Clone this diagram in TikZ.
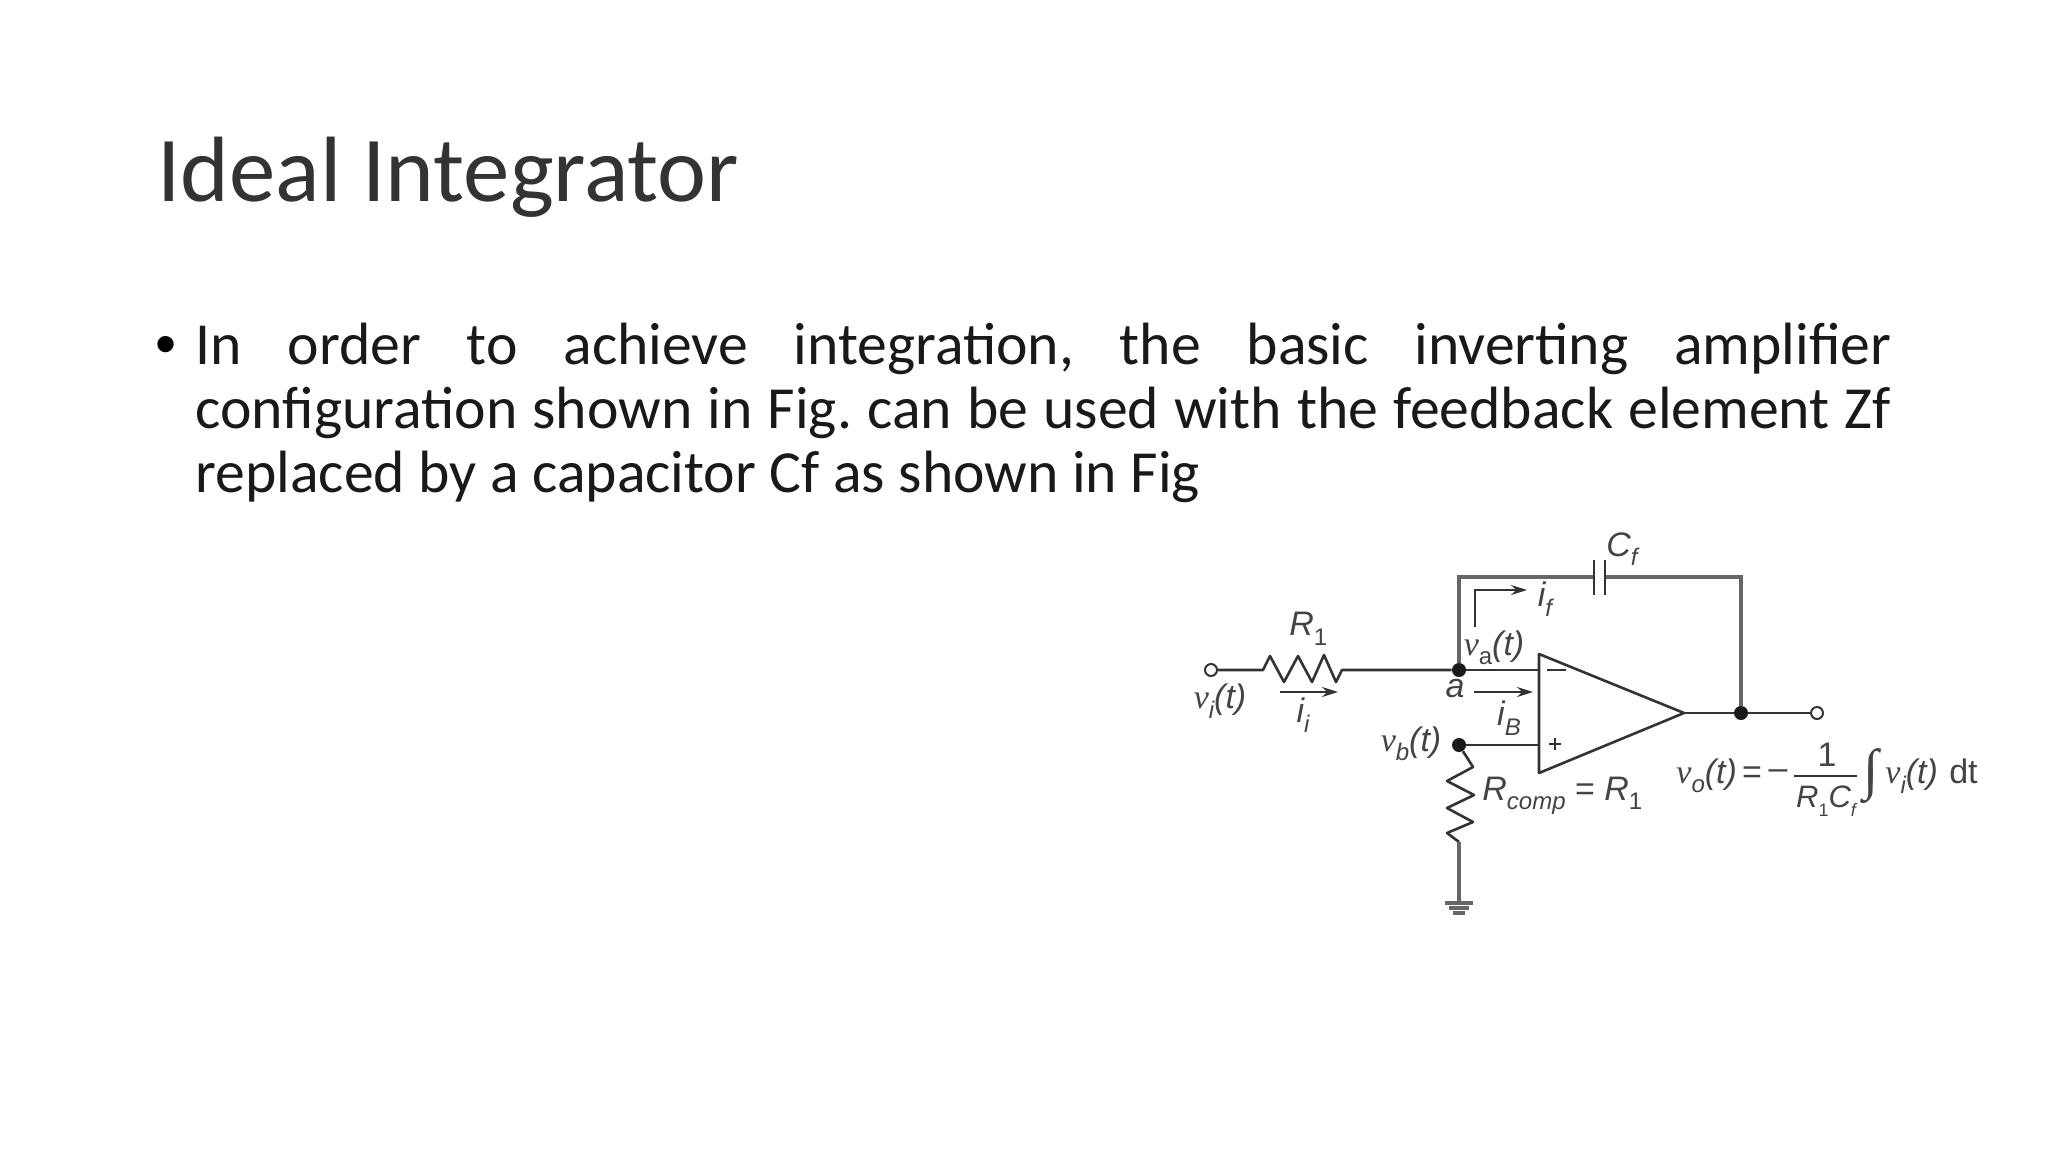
\documentclass[tikz,border=0pt]{standalone}
\usepackage{fontspec}
\setmainfont{Carlito}
\newfontfamily\helv{Liberation Sans}
\newfontfamily\tms{Liberation Serif}
\usetikzlibrary{arrows.meta}
\definecolor{wire}{HTML}{333333}
\definecolor{lab}{HTML}{444444}
\newcommand{\vv}{{\tms\itshape v}}
\newcommand{\subs}[1]{\raisebox{-0.28em}{\fontsize{12}{14}\selectfont #1}}
\newcommand{\subsm}[1]{\raisebox{-0.28em}{\fontsize{9}{11}\selectfont #1}}
\tikzset{
  x=0.5pt,y=-0.5pt,
  wireline/.style={draw=wire,line width=1.3pt,line join=round},
  thickwire/.style={draw=#1,line width=1.6pt,line join=miter},
  thickwire/.default=wire!75,
  currarrow/.style={draw=wire,line width=1pt,-{Stealth[length=8pt,width=5pt]}},
  dotnode/.style={circle,fill=black!90,draw=none,minimum size=7pt,inner sep=0pt},
  terminal/.style={circle,draw=wire,fill=white,line width=1pt,minimum size=6pt,inner sep=0pt},
  lbl/.style={text=lab,inner sep=0pt,font=\helv\itshape\fontsize{17}{20}\selectfont},
  upright/.style={text=lab,inner sep=0pt,font=\helv\fontsize{17}{20}\selectfont},
}
\begin{document}
\begin{tikzpicture}
\useasboundingbox[fill=white] (0,0) rectangle (2048,1152);
% text
\node[anchor=base west,inner sep=0pt,text=black!80,font=\fontsize{46.4}{56}\selectfont] (title) at (157,201) {Ideal Integrator};
\node[anchor=base west,inner sep=0pt,font=\helv\fontsize{30}{32}\selectfont] (bullet) at (155,364) {•};
\node[anchor=base west,inner sep=0pt,text width=848pt,align=justify,text=black!90,
      font=\fontsize{29.85}{32}\selectfont\sloppy\frenchspacing] (body) at (195,364)
  {In order to achieve integration, the basic inverting amplifier\linebreak
   configuration shown in Fig. can be used with the feedback element Zf\linebreak
   replaced by a capacitor Cf as shown in Fig};
% circuit points
\node[terminal] (vin) at (1211,670) {};
\node[dotnode] (a) at (1459,670) {};
\node[dotnode] (b) at (1459,745) {};
\node[dotnode] (out) at (1741,713) {};
\node[terminal] (vout) at (1817,713) {};
\coordinate (r1a) at (1263,670);
\coordinate (r1b) at (1342,670);
\coordinate (fbl) at (1459,577);
\coordinate (capl) at (1594,577);
\coordinate (capr) at (1605,577);
\coordinate (fbr) at (1741,577);
\coordinate (opm) at (1540,670);
\coordinate (opp) at (1540,745);
\coordinate (optop) at (1539,654);
\coordinate (opbot) at (1539,773);
\coordinate (opout) at (1684,713);
\coordinate (gnd) at (1459,903);
\coordinate (rcb) at (1459,842);
% wires
\draw[wireline] (vin) -- (r1a) -- (1270,656) -- (1284,682) -- (1298,656) -- (1312,682) -- (1324,655) -- (1336,682) -- (r1b) -- (a);
\draw[thickwire] (a) -- (fbl) -- (capl);
\draw[thickwire] (capr) -- (fbr) -- (out);
\draw[wireline] (capl |- 0,560) -- (capl |- 0,595);
\draw[wireline] (capr |- 0,560) -- (capr |- 0,595);
\draw[wireline] (a) -- (opm);
\draw[wireline] (b) -- (opp);
\draw[wireline] (optop) -- (opout) -- (opbot) -- cycle;
\draw[wireline] (opout) -- (out) -- (vout);
\draw[wireline] (1547,670) -- (1566,670);
\draw[wireline] (1549,744) -- (1561,744) (1555,738) -- (1555,750);
\draw[wireline] (b) -- (1473,767) -- (1447,781) -- (1474,795) -- (1447,808) -- (1473,822) -- (1447,833) -- (rcb);
\draw[thickwire] (rcb) -- (gnd);
\draw[thickwire] (1445,903) -- (1473,903);
\draw[thickwire] (1449,908) -- (1469,908);
\draw[thickwire] (1453,913) -- (1465,913);
% current arrows
\coordinate (ifs) at (1475,627);
\coordinate (ifc) at (1475,590);
\coordinate (ife) at (1527,590);
\draw[currarrow] (ifs) -- (ifc) -- (ife);
\coordinate (i1s) at (1280,692);
\coordinate (i1e) at (1338,692);
\draw[currarrow] (i1s) -- (i1e);
\coordinate (ibs) at (1474,692);
\coordinate (ibe) at (1533,692);
\draw[currarrow] (ibs) -- (ibe);
% labels
\node[lbl] (lr1) at (1289,629) [anchor=west] {R\subs{\upshape 1}};
\node[lbl] (lvi) at (1220,701) {\vv\subs{i}(t)};
\node[lbl] (li1) at (1303,715) {i\subs{i}};
\node[lbl] (la) at (1455,689) {a};
\node[lbl] (lva) at (1494,648) {\vv\subs{\upshape a}(t)};
\node[lbl] (lib) at (1509,718) {i\subs{B}};
\node[lbl] (lvb) at (1411,744) {\vv\subs{b}(t)};
\node[lbl,anchor=west] (lrc) at (1482,796) {R\subs{comp} {\upshape =} R\subs{\upshape 1}};
\node[lbl] (lcf) at (1622,549) {C\subs{f}};
\node[lbl] (lif) at (1545,599) {i\subs{f}};
% formula
\node[lbl,anchor=west] (fvo) at (1676,776) {\vv\subs{o}(t)};
\node[upright,anchor=center] (feq) at (1752,775) {=};
\node[upright,anchor=center] (fmin) at (1778,775) {–};
\coordinate (barl) at (1794,776);
\coordinate (barr) at (1857,776);
\draw[wireline] (barl) -- (barr);
\node[upright] (fone) at (1827,755) {1};
\node[lbl,font=\helv\itshape\fontsize{15.5}{18}\selectfont] (fden) at (1826,801) {R\subsm{\upshape 1}C\subsm{f}};
\node[upright,font=\tms\fontsize{28}{30}\selectfont] (fint) at (1871,776) {∫};
\node[lbl,anchor=west] (fvi) at (1885,776) {\vv\subs{i}(t)\,\,{\upshape dt}};
\end{tikzpicture}
\end{document}
